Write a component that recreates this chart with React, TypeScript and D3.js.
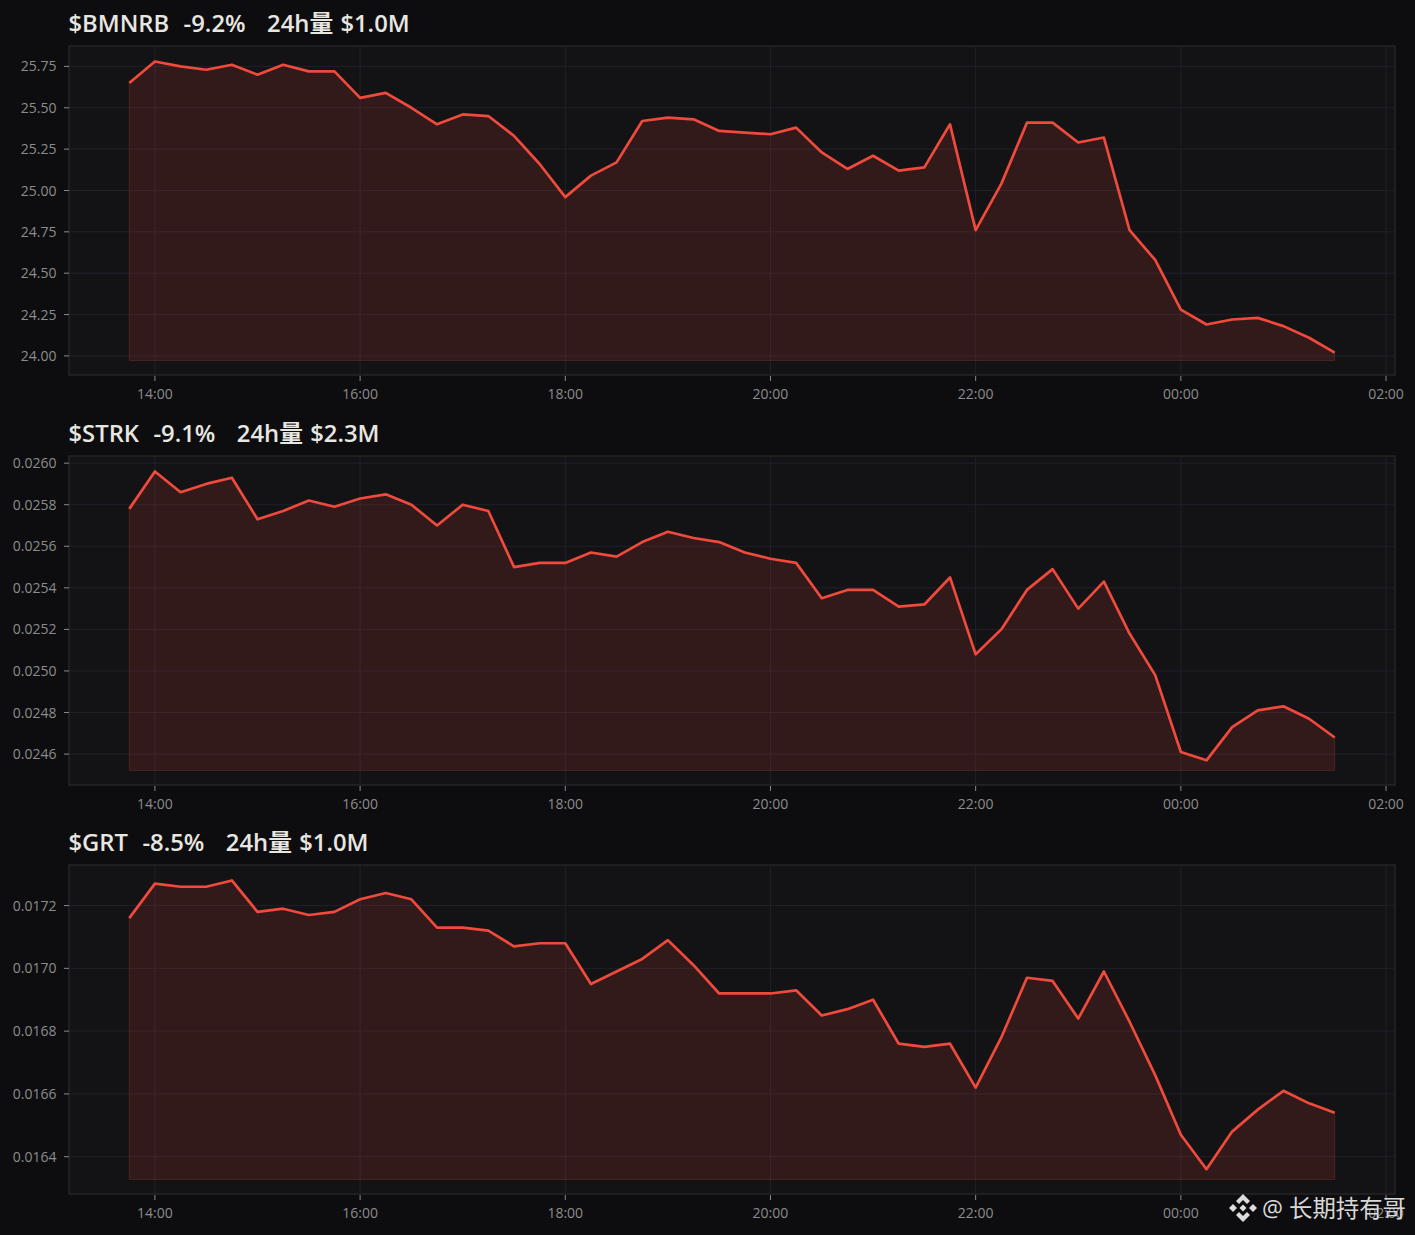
import React from 'react';
import * as d3 from 'd3';

const bmnrb = [25.65, 25.78, 25.75, 25.73, 25.76, 25.70, 25.76, 25.72, 25.72, 25.56, 25.59, 25.50, 25.40, 25.46, 25.45, 25.33, 25.16, 24.96, 25.09, 25.17, 25.42, 25.44, 25.43, 25.36, 25.35, 25.34, 25.38, 25.23, 25.13, 25.21, 25.12, 25.14, 25.40, 24.76, 25.04, 25.41, 25.41, 25.29, 25.32, 24.76, 24.58, 24.28, 24.19, 24.22, 24.23, 24.18, 24.11, 24.02];
const strk = [0.02578, 0.02596, 0.02586, 0.0259, 0.02593, 0.02573, 0.02577, 0.02582, 0.02579, 0.02583, 0.02585, 0.0258, 0.0257, 0.0258, 0.02577, 0.0255, 0.02552, 0.02552, 0.02557, 0.02555, 0.02562, 0.02567, 0.02564, 0.02562, 0.02557, 0.02554, 0.02552, 0.02535, 0.02539, 0.02539, 0.02531, 0.02532, 0.02545, 0.02508, 0.0252, 0.02539, 0.02549, 0.0253, 0.02543, 0.02518, 0.02498, 0.02461, 0.02457, 0.02473, 0.02481, 0.02483, 0.02477, 0.02468];
const grt = [0.01716, 0.01727, 0.01726, 0.01726, 0.01728, 0.01718, 0.01719, 0.01717, 0.01718, 0.01722, 0.01724, 0.01722, 0.01713, 0.01713, 0.01712, 0.01707, 0.01708, 0.01708, 0.01695, 0.01699, 0.01703, 0.01709, 0.01701, 0.01692, 0.01692, 0.01692, 0.01693, 0.01685, 0.01687, 0.0169, 0.01676, 0.01675, 0.01676, 0.01662, 0.01678, 0.01697, 0.01696, 0.01684, 0.01699, 0.01683, 0.01666, 0.01647, 0.01636, 0.01648, 0.01655, 0.01661, 0.01657, 0.01654];

const titles = ['$BMNRB  -9.2%   24h量 $1.0M', '$STRK  -9.1%   24h量 $2.3M', '$GRT  -8.5%   24h量 $1.0M'];
const seriesList = [bmnrb, strk, grt];
const yTicksList = [
    [24, 24.25, 24.5, 24.75, 25, 25.25, 25.5, 25.75],
    [0.0246, 0.0248, 0.025, 0.0252, 0.0254, 0.0256, 0.0258, 0.026],
    [0.0164, 0.0166, 0.0168, 0.017, 0.0172],
];
const yDigits = [2, 4, 4];
const panelTops = [46, 456, 865];
const panelHeight = 329;

const start = new Date(2024, 0, 1, 13, 45);
const times = bmnrb.map((_, i) => d3.timeMinute.offset(start, i * 15));
const xTicks = d3.range(0, 7).map(i => d3.timeHour.offset(new Date(2024, 0, 1, 14), i * 2));

const width = 1415;
const height = 1235;
const left = 69;
const right = 1395;
const fmtTime = d3.timeFormat('%H:%M');
const font = '"Open Sans", "Noto Sans CJK SC", sans-serif';

const Panel: React.FC<{ index: number }> = ({ index }) => {
    const data = seriesList[index];
    const top = panelTops[index];
    const bottom = top + panelHeight;

    const tMin = +times[0];
    const tMax = +times[times.length - 1];
    const tPad = (tMax - tMin) * 0.05;
    const x = d3.scaleTime().domain([tMin - tPad, tMax + tPad]).range([left, right]);

    // la base del relleno queda un poco por debajo del minimo
    const base = (d3.min(data) as number) * 0.998;
    const vMax = d3.max(data) as number;
    const vPad = (vMax - base) * 0.05;
    const y = d3.scaleLinear().domain([base - vPad, vMax + vPad]).range([bottom + 0.5, top + 0.5]);

    const line = d3.line<number>().x((_, i) => x(times[i])).y(d => y(d));
    const area = d3.area<number>().x((_, i) => x(times[i])).y0(y(base)).y1(d => y(d));

    return (
        <g>
            <text x={68.5} y={top - 14} fill="#e8e6e0" fontSize={23.8} fontWeight={600} wordSpacing={1} fontFamily={font} style={{ whiteSpace: 'pre' }}>
                {titles[index]}
            </text>
            <rect x={left} y={top} width={right - left} height={panelHeight} fill="#131316" stroke="#2a2a2e" strokeWidth={1.2} />
            {yTicksList[index].map(t => (
                <g key={t}>
                    <line x1={left} x2={right} y1={y(t)} y2={y(t)} stroke="#20202a" strokeWidth={1} />
                    <line x1={left - 5} x2={left} y1={y(t)} y2={y(t)} stroke="#8a8a8a" strokeWidth={1} />
                    <text x={left - 12.5} y={y(t)} dy="0.36em" textAnchor="end" fill="#8c8c8c" fontSize={14} fontFamily={font}>
                        {t.toFixed(yDigits[index])}
                    </text>
                </g>
            ))}
            {xTicks.map(t => (
                <g key={+t}>
                    <line x1={x(t)} x2={x(t)} y1={top} y2={bottom} stroke="#20202a" strokeWidth={1} />
                    <line x1={x(t)} x2={x(t)} y1={bottom + 1} y2={bottom + 6} stroke="#8a8a8a" strokeWidth={1} />
                    <text x={x(t)} y={bottom + 24} textAnchor="middle" fill="#8c8c8c" fontSize={14} fontFamily={font}>
                        {fmtTime(t)}
                    </text>
                </g>
            ))}
            <path d={area(data) ?? ''} fill="#ef4a3c" fillOpacity={0.14} stroke="#ef4a3c" strokeOpacity={0.2} strokeWidth={1} />
            <path d={line(data) ?? ''} fill="none" stroke="#ef4a3c" strokeWidth={2.7} strokeLinejoin="round" />
        </g>
    );
};

// marca de agua
const Watermark: React.FC = () => (
    <g>
        <g transform="translate(1243,1208)" fill="#dcdcdc">
            <path d="M0,-14 L7,-7 L4,-4 L0,-8 L-4,-4 L-7,-7 Z" />
            <path d="M0,14 L7,7 L4,4 L0,8 L-4,4 L-7,7 Z" />
            <path d="M-14,0 L-10,-4 L-6,0 L-10,4 Z" />
            <path d="M14,0 L10,-4 L6,0 L10,4 Z" />
            <path d="M0,-3.5 L3.5,0 L0,3.5 L-3.5,0 Z" />
        </g>
        <text x={1262} y={1217} fill="#d8d8d8" fontSize={23.4} fontFamily={font} style={{ whiteSpace: 'pre' }}>
            @ 长期持有哥
        </text>
    </g>
);

export default function App() {
    return (
        <svg width={width} height={height} style={{ position: 'absolute', left: 0, top: 0, background: '#0d0d0f' }}>
            {seriesList.map((_, i) => <Panel key={i} index={i} />)}
            <Watermark />
        </svg>
    );
}
